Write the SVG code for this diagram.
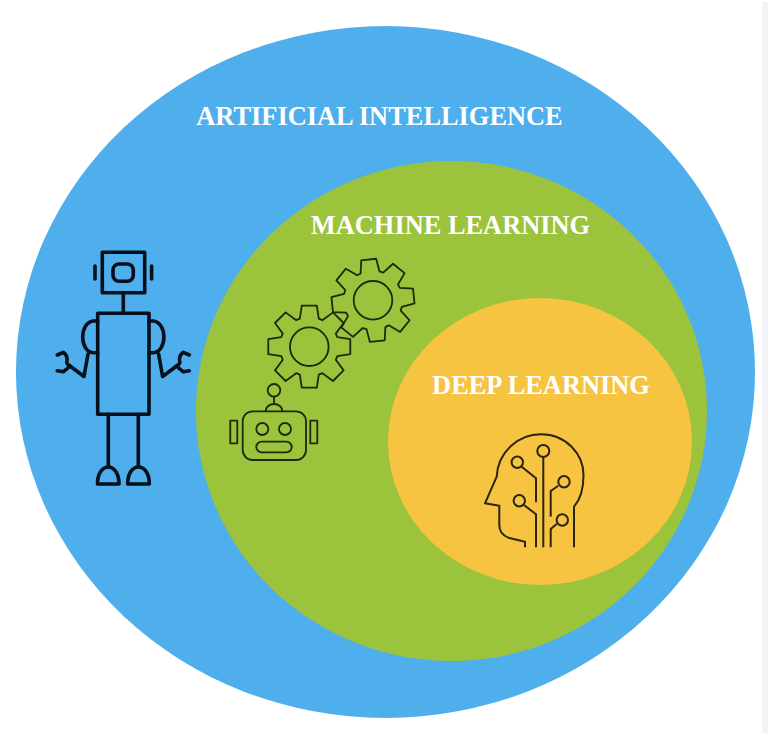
<svg xmlns="http://www.w3.org/2000/svg" width="768" height="733" viewBox="0 0 768 733">
<style>
.t{font-family:"Liberation Serif","Times New Roman",serif;font-weight:bold;font-size:26.4px;fill:#fff;text-anchor:middle}
.a{fill:none;stroke:#05101c;stroke-width:3.6;stroke-linejoin:round;stroke-linecap:round}
.b{fill:none;stroke:#1c2a0c;stroke-width:1.8;stroke-linejoin:round}
.c{fill:none;stroke:#2a2410;stroke-width:2;stroke-linejoin:round}
</style>
<defs>
<path id="gear" d="M-9.5-28L-7.5-41H7.5L9.5-28L13.1-26.5L23.7-34.3L34.3-23.7L26.5-13.1L28-9.5L41-7.5V7.5L28 9.5L26.5 13.1L34.3 23.7L23.7 34.3L13.1 26.5L9.5 28L7.5 41H-7.5L-9.5 28L-13.1 26.5L-23.7 34.3L-34.3 23.7L-26.5 13.1L-28 9.5L-41 7.5V-7.5L-28-9.5L-26.5-13.1L-34.3-23.7L-23.7-34.3L-13.1-26.5Z"/>
<g id="arm"><path d="M97.7 321H93C86.5 322 82.7 329 82.7 337C82.7 345 86.5 352 93 352.7H97.7M88 354L84 376.5L70 366"/><path d="M57.3 355L63.3 352.3Q68.5 356 66.7 362.7Q67.5 365 70 366Q67 369 63.3 371.7L57.3 370.7"/></g>
</defs>
<rect x="762" y="2" width="6" height="731" fill="#f2f3f6"/>
<g id="ai"><ellipse cx="385.5" cy="372" rx="369.5" ry="346" fill="#4fafec"/><text class="t" x="379.5" y="125">ARTIFICIAL INTELLIGENCE</text></g>
<g id="ml"><ellipse cx="451.5" cy="411" rx="255.5" ry="250" fill="#9bc33c"/><text class="t" x="450.5" y="234">MACHINE LEARNING</text></g>
<g id="dl"><ellipse cx="540" cy="441.5" rx="152" ry="143.5" fill="#f6c441"/><text class="t" x="541" y="394">DEEP LEARNING</text></g>
<g id="robot" class="a">
<rect x="102.3" y="252.3" width="42.4" height="40.4"/>
<rect x="113" y="264" width="20.3" height="17.3" rx="6"/>
<path d="M95 266V279M151.6 266V279M123.3 293V313"/>
<rect x="97.7" y="313.3" width="51.3" height="101"/>
<use href="#arm"/>
<use href="#arm" transform="translate(246.6 0) scale(-1 1)"/>
<path d="M108.3 414.3V467M138.3 414.3V467"/>
<path d="M97.5 484C97.5 474 102 467 108.3 467C114.5 467 119 474 119 484Z"/>
<path d="M127.7 484C127.7 474 132 467 138.5 467C145 467 149.3 474 149.3 484Z"/>
</g>
<g id="gears" class="b">
<use href="#gear" transform="translate(309.3 346.7)"/><circle cx="309.3" cy="346.7" r="19.3"/>
<use href="#gear" transform="translate(373 300.3) rotate(-6)"/><circle cx="373" cy="300.3" r="19.3"/>
</g>
<g id="bot" class="b">
<rect x="242.7" y="411.3" width="63.3" height="48.7" rx="10"/>
<rect x="230.3" y="420.7" width="7" height="22.6"/>
<rect x="310.3" y="420.7" width="7" height="22.6"/>
<circle cx="262.3" cy="429" r="6"/><circle cx="285" cy="429" r="6"/>
<rect x="256.3" y="441.7" width="35.4" height="10.6" rx="5.3"/>
<circle cx="274" cy="390.3" r="6.3"/>
<path d="M274 396.6V404M265.7 411A8.3 7 0 0 1 282.3 411"/>
</g>
<g id="head" class="c">
<path d="M525 547.3V541.7L508.3 537.7Q499.3 534 499.3 525V505.7L485 503.3L496.7 476.7C498 452 518 434.3 541 434.3C566 434.3 583.5 454 583.5 475C583.5 490 580 500 574 506.7V547.3"/>
<circle cx="543.3" cy="451" r="6"/><path d="M543.3 457V547.3"/>
<circle cx="517.3" cy="462.3" r="5.7"/><path d="M521.7 466.7L536 478.3V502.3"/>
<circle cx="519.3" cy="500.7" r="5.7"/><path d="M524 505L536 514.3V547.3"/>
<circle cx="564" cy="481.7" r="5.7"/><path d="M558.3 485.7L550.7 491V516.7"/>
<circle cx="562.3" cy="520" r="5.7"/><path d="M556.7 524L550.7 529V547.3"/>
</g>
</svg>
